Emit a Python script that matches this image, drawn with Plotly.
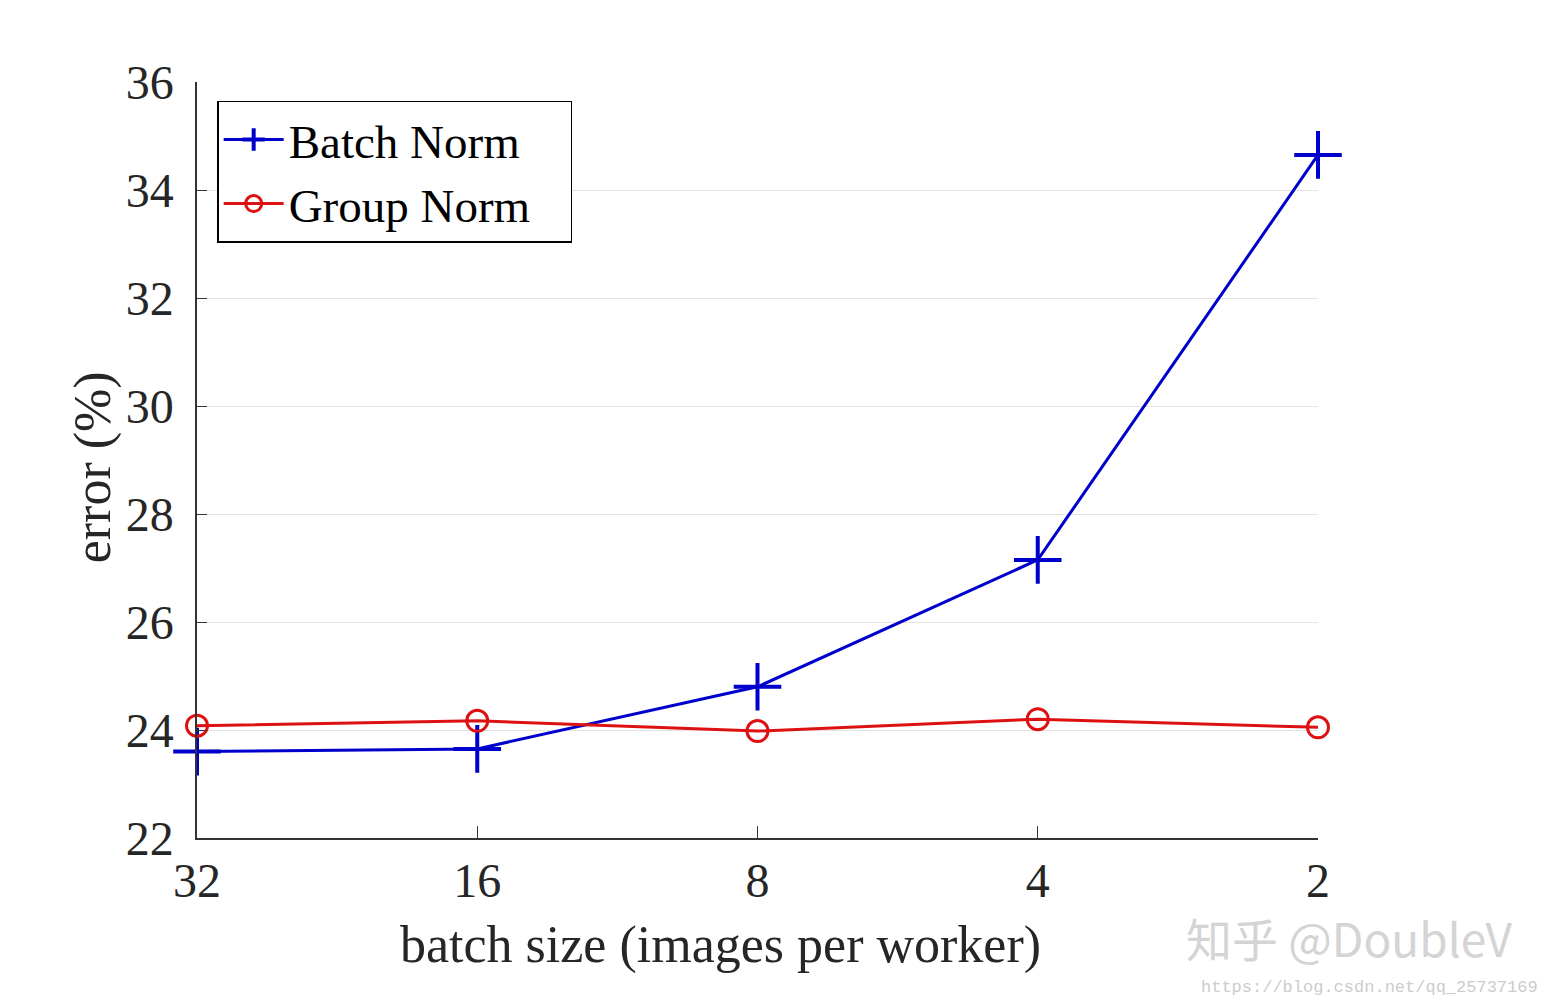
import plotly.graph_objects as go

batch_labels = ["32", "16", "8", "4", "2"]
batch_norm = [23.6, 23.65, 24.8, 27.15, 34.65]
group_norm = [24.08, 24.17, 23.98, 24.2, 24.05]

x_pos = list(range(len(batch_labels)))
serif = "Liberation Serif, Times New Roman, serif"

fig = go.Figure()
fig.add_trace(go.Scatter(
    x=x_pos, y=batch_norm, name="Batch Norm", mode="lines+markers",
    line=dict(color="#0000cc", width=3),
    marker=dict(symbol="cross-thin", size=34, line=dict(color="#0000cc", width=4)),
    cliponaxis=False,
))
fig.add_trace(go.Scatter(
    x=x_pos, y=group_norm, name="Group Norm\u00a0\u00a0\u00a0", mode="lines+markers",
    line=dict(color="#dd1111", width=3),
    marker=dict(symbol="circle-open", size=21, line=dict(color="#dd1111", width=3)),
    cliponaxis=False,
))

# page body is offset by ~8px, so margins are trimmed accordingly
fig.update_layout(
    width=1548, height=1008,
    paper_bgcolor="white", plot_bgcolor="white",
    margin=dict(l=189, r=238, t=74, b=178),
    font=dict(family=serif, size=48, color="#262626"),
    legend=dict(
        x=0.018, y=0.975, xanchor="left", yanchor="top",
        bordercolor="black", borderwidth=1.5, bgcolor="white",
        font=dict(size=47, color="black"), itemwidth=60,
        tracegroupgap=0,
    ),
    showlegend=True,
)
fig.update_xaxes(
    range=[0, 4], tickvals=x_pos, ticktext=batch_labels,
    showline=True, linecolor="#333333", linewidth=1.5,
    ticks="inside", ticklen=12, tickcolor="#333333",
    showgrid=False, zeroline=False,
    tickfont=dict(size=48), ticklabelstandoff=0,
)
fig.update_yaxes(
    range=[22, 36], dtick=2,
    showline=True, linecolor="#333333", linewidth=1.5,
    ticks="inside", ticklen=10, tickcolor="#333333",
    showgrid=True, gridcolor="#e3e3e3", gridwidth=1, zeroline=False,
    tickfont=dict(size=48), ticklabelstandoff=12,
)

# axis titles placed as in the original (slightly off-centre)
fig.add_annotation(
    text="batch size (images per worker)", xref="paper", yref="paper", x=0.467, y=-0.1415,
    xanchor="center", yanchor="middle", showarrow=False, font=dict(size=52),
)
fig.add_annotation(
    text="error (%)", xref="paper", yref="paper", x=-0.093, y=0.49, textangle=-90,
    xanchor="center", yanchor="middle", showarrow=False, font=dict(size=52),
)

# watermarks
fig.add_annotation(
    text="知乎 @DoubleV", xref="paper", yref="paper", x=1.028, y=-0.131,
    xanchor="center", yanchor="middle",
    showarrow=False, font=dict(family="Noto Sans CJK SC", size=46, color="#d4d4d4"),
)
fig.add_annotation(
    text="https://blog.csdn.net/qq_25737169", xref="paper", yref="paper", x=1.046, y=-0.198,
    xanchor="center", yanchor="middle",
    showarrow=False, font=dict(family="Liberation Mono, monospace", size=17, color="#cccccc"),
)

fig.write_html("out.html")
